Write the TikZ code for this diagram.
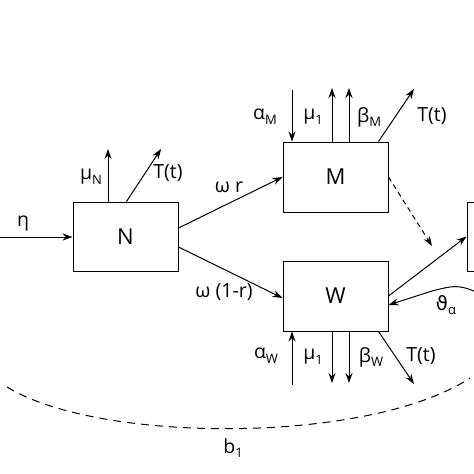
\documentclass[tikz,border=0pt]{standalone}
\usepackage{fontspec}
\setmainfont{Open Sans}
\newfontfamily\dvs{DejaVu Sans}
\usetikzlibrary{arrows.meta}
\newcommand\lsub[1]{\raisebox{-0.45ex}{\fontsize{13}{13}\selectfont #1}}
\begin{document}
\begin{tikzpicture}[x=1pt,y=-1pt,
  box/.style={draw,line width=1pt,minimum width=105pt,minimum height=70pt,inner sep=0pt,font=\fontsize{22}{22}\selectfont},
  arr/.style={line width=1pt,-{Stealth[length=10pt,width=7pt]}},
  lbl/.style={font=\fontsize{19.5}{19.5}\selectfont,inner sep=0pt},
  dsh/.style={line width=1pt,dash pattern=on 8pt off 6pt}]
\useasboundingbox (0,0) rectangle (474,474);
\node[box,minimum height=69pt] (N) at (125.5,236.5) {N};
\node[box] (M) at (335.5,177) {M};
\node[box] (W) at (335.5,296) {W};
\begin{scope}
\clip (0,0) rectangle (474,474);
\node[box,minimum width=40pt,minimum height=69pt] (R) at (487,236.5) {};
\end{scope}
% eta
\coordinate (in) at (-2,237);
\draw[arr] (in) -- (N.west |- in);
\node[lbl] (leta) at (23,224) {η};
% N top
\coordinate (muN) at (108,149);
\draw[arr] (muN |- N.north) -- (muN);
\node[lbl] (lmuN) at (91,177) {μ\lsub{N}};
\coordinate (TN) at (161,149);
\draw[arr] ([xshift=54pt]N.north west) -- (TN);
\node[lbl] (lTN) at (168,173) {T(t)};
% omega r
\draw[arr] ([yshift=8.5pt]N.east) -- (M.west);
\node[lbl] (lwr) at (229,187) {ω r};
\draw[arr] ([yshift=-10.5pt]N.east) -- ([yshift=-2pt]W.west);
\node[lbl] (lw1r) at (224,292) {ω (1-r)};
% M top
\coordinate (aM) at (292,90);
\draw[arr] (aM) -- (aM |- M.north);
\node[lbl] (laM) at (265,117) {α\lsub{M}};
\coordinate (m1M) at (332,88);
\draw[arr] (m1M |- M.north) -- (m1M);
\node[lbl] (lm1M) at (313,117) {μ\lsub{1}};
\coordinate (bM) at (349,88);
\draw[arr] (bM |- M.north) -- (bM);
\node[lbl] (lbM) at (369,117) {β\lsub{M}};
\coordinate (TM) at (414,89);
\draw[arr] ([xshift=96pt]M.north west) -- (TM);
\node[lbl] (lTM) at (432,116) {T(t)};
% dashed M -> R
\coordinate (dM) at (432,246);
\draw[arr,dash pattern=on 5pt off 4pt] (M.east) -- (dM);
% W -> R
\draw[arr] (W.east) -- (R.west);
% theta
\coordinate (th) at (476,292);
\draw[arr] (th) .. controls (458,284) and (452,286) .. (432,291) -- ([yshift=-9pt]W.east);
\node[lbl] (lth) at (446,305) {{\dvs ϑ}\lsub{α}};
% W bottom
\coordinate (aW) at (292,385);
\draw[arr] (aW) -- (aW |- W.south);
\node[lbl] (laW) at (266,356) {α\lsub{W}};
\coordinate (m1W) at (332,383);
\draw[arr] (m1W |- W.south) -- (m1W);
\node[lbl] (lm1W) at (313,357) {μ\lsub{1}};
\coordinate (bW) at (349,383);
\draw[arr] (bW |- W.south) -- (bW);
\node[lbl] (lbW) at (371,357) {β\lsub{W}};
\coordinate (TW) at (414,384);
\draw[arr] ([xshift=96pt]W.south west) -- (TW);
\node[lbl] (lTW) at (421,356) {T(t)};
% b1
\coordinate (b1s) at (7,387);
\coordinate (b1e) at (470,378);
\draw[dsh] (b1s) .. controls (100,444) and (370,444) .. (b1e);
\node[lbl] (lb1) at (233,448) {b\lsub{1}};
\end{tikzpicture}
\end{document}
